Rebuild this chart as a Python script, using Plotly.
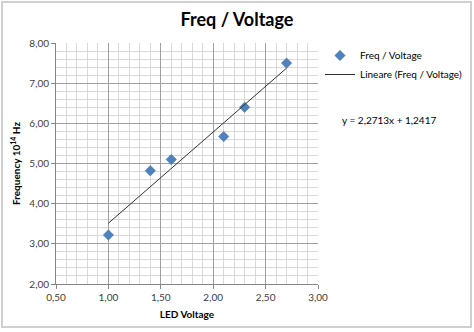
import plotly.graph_objects as go

voltage = [1.0, 1.4, 1.6, 2.1, 2.3, 2.7]
frequency = [3.22, 4.82, 5.10, 5.67, 6.40, 7.50]
slope = 2.2713
intercept = 1.2417
trend_x = [min(voltage), max(voltage)]
trend_y = [slope * x + intercept for x in trend_x]

W, H = 474, 332
L, R, T, B = 56, 156, 43, 48
pw, ph = W - L - R, H - T - B
font = "Lato"

fig = go.Figure()
fig.add_trace(go.Scatter(x=voltage, y=frequency, mode="markers", name="Freq / Voltage",
                         marker=dict(symbol="diamond", size=8, color="#4F81BD",
                                     line=dict(width=0.5, color="#3f6fa8"))))
fig.add_trace(go.Scatter(x=trend_x, y=trend_y, mode="lines", name="Lineare (Freq / Voltage)",
                         line=dict(color="#333333", width=1)))

axis_common = dict(showline=True, linecolor="#868686", linewidth=1, gridcolor="#a0a0a0",
                   gridwidth=1, ticks="outside", ticklen=4, tickcolor="#868686",
                   tickfont=dict(family=font, size=10, color="#404040"),
                   tickformat=".2f", zeroline=False, mirror=False, automargin=False)
fig.update_xaxes(range=[0.5, 3.0], dtick=0.5, tick0=0.5,
                 minor=dict(dtick=0.1, showgrid=True, gridcolor="#d9d9d9", gridwidth=1),
                 title=dict(text="<b>LED Voltage</b>", font=dict(family=font, size=10, color="#000"),
                            standoff=8), **axis_common)
fig.update_yaxes(range=[2.0, 8.0], dtick=1, tick0=2,
                 minor=dict(dtick=0.2, showgrid=True, gridcolor="#d9d9d9", gridwidth=1),
                 title=dict(text="<b>Frequency 10<sup>14</sup> Hz</b>",
                            font=dict(family=font, size=10, color="#000"), standoff=6),
                 **axis_common)

fig.update_layout(
    width=W, height=H, margin=dict(l=L, r=R, t=T, b=B, autoexpand=False),
    paper_bgcolor="white", plot_bgcolor="white", separators=",.",
    title=dict(text="<b>Freq / Voltage</b>", x=0.5, xanchor="center", y=1 - 20 / H, yanchor="middle",
               font=dict(family=font, size=18, color="#000")),
    legend=dict(x=(320 - L) / pw, y=1 - (41 - T) / ph, xanchor="left", yanchor="top",
                font=dict(family=font, size=10, color="#000"), bgcolor="rgba(0,0,0,0)",
                itemwidth=30, tracegroupgap=2),
    showlegend=True,
)
fig.add_annotation(text=f"y = {str(slope).replace('.', ',')}x + {str(intercept).replace('.', ',')}",
                   xref="paper", yref="paper", x=(340 - L) / pw, y=1 - (120 - T) / ph,
                   xanchor="left", yanchor="middle", showarrow=False,
                   font=dict(family=font, size=10, color="#000"))
# outer chart border
fig.add_shape(type="rect", xref="paper", yref="paper",
              x0=(2 - L) / pw, x1=(471 - L) / pw, y0=1 - (327 - T) / ph, y1=1 - (2 - T) / ph,
              line=dict(color="#d0d0d0", width=2), fillcolor="rgba(0,0,0,0)", layer="below")

fig.write_html("out.html")
